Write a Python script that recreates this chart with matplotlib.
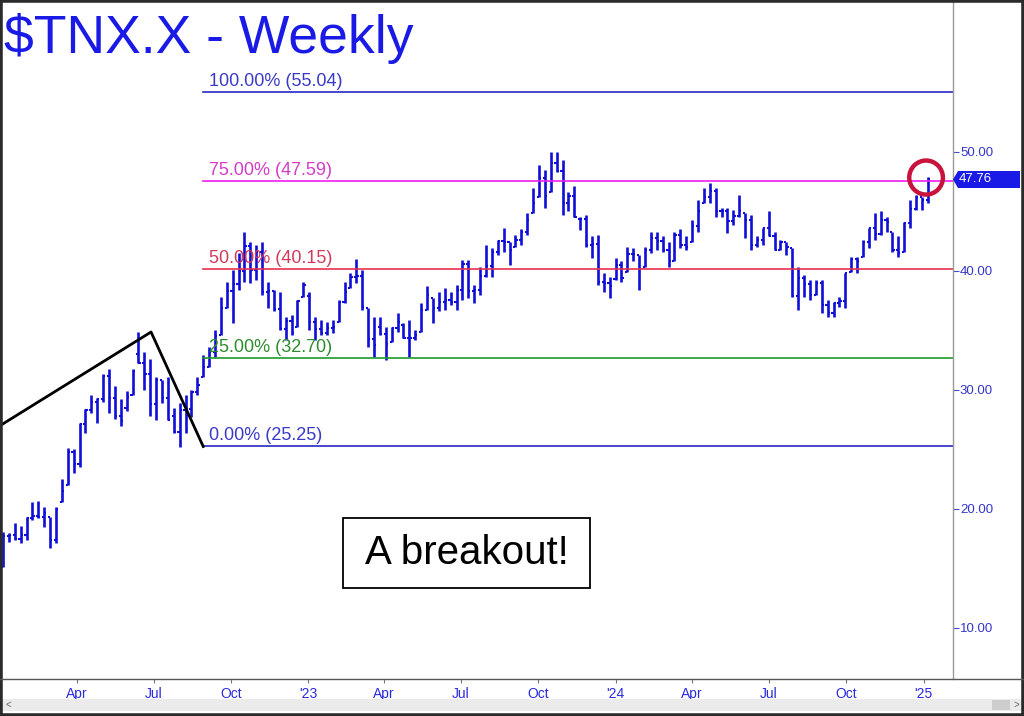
import pandas as pd
import matplotlib
matplotlib.use('Agg')
import matplotlib.pyplot as plt
import matplotlib.dates as mdates
from matplotlib.patches import Rectangle, Ellipse, Polygon
from matplotlib.lines import Line2D

plt.rcParams['font.family'] = ['Liberation Sans', 'DejaVu Sans']

# 10-year yield (x10), weekly bars starting Monday 2022-01-03
first_week = '2022-01-03'
highs = [18.1, 18.0, 18.8, 18.6, 19.3, 20.6, 20.7, 20.2, 19.3, 20.2,
         22.5, 25.1, 25.0, 27.2, 28.4, 29.6, 29.3, 31.3, 31.8, 30.3,
         29.2, 29.9, 31.8, 34.9, 33.2, 32.6, 31.1, 30.8, 31.1, 28.5,
         28.9, 29.6, 30.0, 31.1, 32.9, 33.6, 35.0, 37.8, 39.1, 40.1,
         41.5, 43.3, 42.4, 42.2, 42.4, 39.1, 38.4, 38.2, 36.1, 36.3,
         37.6, 39.1, 38.2, 36.1, 35.9, 35.7, 35.9, 37.6, 39.1, 39.8,
         41.0, 40.1, 36.9, 36.1, 36.1, 35.3, 35.3, 36.5, 35.6, 35.9,
         35.0, 37.3, 38.7, 37.7, 38.2, 38.6, 38.2, 38.8, 40.9, 40.9,
         38.8, 40.3, 42.2, 41.9, 42.6, 43.6, 42.4, 43.0, 43.5, 44.9,
         47.0, 48.9, 48.5, 50.0, 50.0, 49.3, 46.6, 47.1, 44.5, 44.7,
         42.9, 43.0, 39.8, 39.5, 41.1, 40.8, 42.0, 41.9, 41.3, 42.0,
         43.3, 43.3, 42.9, 42.4, 43.3, 43.5, 42.9, 44.3, 46.0, 47.0,
         47.4, 47.0, 45.3, 45.3, 45.1, 46.4, 44.9, 44.7, 42.9, 43.6,
         45.0, 43.3, 42.6, 42.4, 41.9, 40.3, 39.7, 39.2, 39.2, 39.2,
         37.6, 37.4, 37.8, 39.8, 41.2, 41.2, 42.6, 43.6, 44.9, 45.0,
         44.5, 43.3, 42.9, 44.1, 46.0, 46.4, 46.2, 47.9]
lows = [15.1, 17.2, 17.4, 17.1, 17.4, 19.1, 19.2, 18.5, 16.7, 17.1,
        20.6, 22.0, 23.0, 23.5, 26.4, 28.1, 27.2, 29.0, 28.1, 27.6,
        27.0, 28.2, 29.6, 32.3, 30.0, 27.8, 27.5, 28.9, 27.5, 26.4,
        25.2, 26.4, 27.7, 29.6, 31.1, 31.9, 32.8, 34.6, 36.9, 35.6,
        38.4, 39.1, 39.0, 39.2, 38.0, 36.9, 36.6, 35.0, 34.2, 34.6,
        35.3, 37.8, 35.0, 34.2, 34.6, 34.6, 34.8, 35.7, 37.3, 38.6,
        39.0, 36.7, 33.6, 32.8, 34.6, 32.5, 34.0, 34.9, 34.4, 32.8,
        34.2, 34.9, 36.7, 35.6, 36.6, 36.7, 37.1, 36.7, 37.6, 37.7,
        37.3, 38.0, 39.5, 39.5, 41.3, 41.6, 40.5, 42.0, 42.2, 43.0,
        44.9, 46.2, 45.3, 46.6, 48.3, 44.7, 45.0, 44.5, 43.4, 42.0,
        41.1, 38.8, 38.2, 37.7, 39.2, 39.1, 39.9, 40.8, 38.4, 40.3,
        41.5, 41.8, 41.6, 40.3, 40.8, 41.9, 41.8, 42.4, 43.3, 45.7,
        45.7, 44.5, 44.5, 43.2, 43.9, 44.5, 42.8, 41.8, 42.0, 42.2,
        42.9, 41.8, 41.8, 41.3, 37.8, 36.7, 37.8, 37.6, 38.0, 36.5,
        36.1, 36.1, 37.0, 36.9, 39.9, 39.8, 41.2, 41.9, 42.6, 43.0,
        43.3, 41.6, 41.2, 41.6, 43.6, 45.1, 45.1, 45.7]
opens = [15.1, 17.7, 17.8, 17.5, 17.8, 19.2, 19.4, 19.3, 19.3, 17.4,
         20.6, 22.0, 24.8, 23.8, 27.1, 28.3, 29.0, 29.2, 31.2, 29.3,
         27.8, 28.5, 29.6, 33.0, 32.3, 31.3, 28.8, 30.8, 29.3, 27.8,
         26.5, 28.3, 28.4, 29.8, 31.1, 31.9, 33.2, 34.6, 36.9, 38.3,
         38.9, 40.0, 42.1, 40.1, 41.6, 38.2, 38.3, 36.8, 35.1, 35.8,
         35.3, 37.8, 37.9, 35.7, 35.1, 34.8, 35.2, 35.7, 37.4, 38.6,
         39.5, 39.6, 36.9, 34.3, 35.3, 34.7, 34.0, 35.2, 35.5, 34.4,
         34.4, 34.9, 36.7, 37.7, 36.9, 37.4, 37.6, 37.4, 38.4, 40.6,
         38.3, 38.4, 39.6, 40.4, 41.6, 42.5, 42.4, 42.0, 42.6, 43.3,
         44.9, 46.2, 47.8, 46.6, 49.1, 48.4, 45.7, 46.3, 44.4, 44.4,
         42.2, 42.3, 39.1, 39.0, 39.3, 40.5, 39.9, 41.4, 41.3, 40.3,
         41.8, 42.8, 42.5, 41.8, 40.8, 43.0, 42.2, 42.4, 43.8, 45.7,
         46.2, 46.7, 45.0, 45.0, 44.2, 44.6, 44.9, 44.3, 42.2, 42.6,
         43.6, 42.9, 41.8, 42.4, 41.9, 37.9, 39.4, 38.9, 38.0, 39.0,
         37.1, 36.5, 37.3, 37.5, 39.9, 41.0, 41.2, 42.4, 43.6, 43.1,
         44.3, 43.3, 41.8, 41.6, 44.0, 45.2, 46.2, 46.0]
closes = [17.7, 17.8, 17.5, 17.8, 19.2, 19.4, 19.3, 19.7, 17.4, 20.0,
          21.5, 24.8, 23.8, 27.1, 28.3, 29.0, 29.2, 31.2, 29.3, 27.8,
          27.4, 29.4, 31.6, 32.3, 31.3, 28.8, 30.8, 29.3, 27.5, 26.5,
          28.3, 28.4, 29.8, 30.4, 31.9, 33.2, 34.5, 36.9, 38.3, 38.9,
          40.0, 42.1, 40.1, 41.6, 38.2, 38.3, 36.8, 35.1, 35.8, 34.8,
          37.5, 38.8, 35.7, 35.1, 34.8, 35.2, 35.3, 37.4, 38.2, 39.5,
          39.6, 37.0, 34.3, 33.8, 34.7, 33.9, 35.2, 35.7, 34.4, 34.4,
          34.6, 36.7, 38.0, 36.9, 37.4, 37.6, 37.4, 38.4, 40.6, 38.3,
          38.4, 39.6, 40.4, 41.6, 42.5, 42.4, 41.8, 42.6, 43.3, 44.3,
          45.7, 47.8, 46.3, 49.1, 48.4, 45.7, 46.3, 44.5, 44.4, 42.2,
          42.3, 39.1, 39.0, 38.7, 40.5, 39.4, 41.4, 41.4, 40.2, 41.8,
          42.8, 42.5, 41.8, 40.8, 43.0, 42.2, 42.0, 43.8, 45.0, 46.2,
          46.7, 45.0, 45.0, 44.2, 44.6, 45.0, 44.3, 42.2, 42.6, 43.6,
          42.9, 41.8, 42.4, 42.0, 37.9, 39.4, 38.9, 38.0, 39.0, 37.1,
          36.5, 37.3, 37.5, 39.8, 41.0, 40.8, 42.4, 43.6, 43.1, 44.3,
          44.1, 41.8, 41.5, 44.0, 45.2, 46.2, 46.0, 47.76]
last_price = 47.76

# retracement levels
fib_pct = ['100.00%', '75.00%', '50.00%', '25.00%', '0.00%']
fib_val = [55.04, 47.59, 40.15, 32.70, 25.25]
fib_line_col = ['#2626c4', '#f01ef0', '#e8304e', '#209a2a', '#2626c4']
fib_text_col = ['#3a3ac8', '#d43cc8', '#d23a5a', '#2e8c2e', '#3a3ac8']
fib_start = '2022-08-29'

# hand-drawn swing line
swing_dates = ['2021-12-30 12:00', '2022-06-28 00:00', '2022-08-29 00:00']
swing_vals = [27.0, 34.87, 25.25]

# quarter labels along the bottom
qtr_ticks = ['2022-04-01', '2022-07-01', '2022-10-01', '2023-01-01',
             '2023-04-01', '2023-07-01', '2023-10-01', '2024-01-01',
             '2024-04-01', '2024-07-01', '2024-10-01', '2025-01-01']
qtr_labels = ['Apr', 'Jul', 'Oct', "'23", 'Apr', 'Jul', 'Oct', "'24",
              'Apr', 'Jul', 'Oct', "'25"]
price_ticks = [10, 20, 30, 40, 50]

x_left, x_right = '2021-12-30 12:00', '2025-02-05'
y_low, y_high = 5.71, 62.77

BLUE = '#0f0fd8'
W, H = 1024, 716


def fx(px):
    return px / W


def fy(py):
    return 1 - py / H


fig = plt.figure(figsize=(W / 100, H / 100), dpi=100)
fig.patch.set_facecolor('white')
ax = fig.add_axes([0, fy(679), fx(953), 679 / H])

weeks = pd.date_range(first_week, periods=len(highs), freq='7D')
tick = pd.Timedelta(days=2.6)

# OHLC bars
ax.vlines(weeks, lows, highs, color=BLUE, lw=1.9)
ax.hlines(opens, weeks - tick, weeks, color=BLUE, lw=1.5)
ax.hlines(closes, weeks, weeks + tick, color=BLUE, lw=1.5)

# retracement lines with labels
fs = pd.Timestamp(fib_start)
for pct, v, lc, tc in zip(fib_pct, fib_val, fib_line_col, fib_text_col):
    ax.plot([fs, pd.Timestamp(x_right)], [v, v], color=lc, lw=1.2)
    ax.annotate(f'{pct} ({v:.2f})', xy=(fs, v), xytext=(6, 6),
                textcoords='offset pixels', color=tc, fontsize=13,
                ha='left', va='baseline')

# swing line
ax.plot(pd.to_datetime(swing_dates), swing_vals, color='black', lw=2.0)

# circle around the breakout bar
ax.add_patch(Ellipse((weeks[-1] - pd.Timedelta(days=2), 47.85),
                     width=40.0, height=2.86, fill=False,
                     edgecolor='#c8143c', lw=3.2, zorder=5))

ax.set_xlim(pd.Timestamp(x_left), pd.Timestamp(x_right))
ax.set_ylim(y_low, y_high)

for s in ['top', 'left', 'bottom']:
    ax.spines[s].set_visible(False)
ax.spines['right'].set_color('#9a9a9a')
ax.spines['right'].set_linewidth(1.0)

ax.yaxis.tick_right()
ax.set_yticks(price_ticks)
ax.set_yticklabels([f'{t:.2f}' for t in price_ticks])
ax.tick_params(axis='y', length=4, width=0.8, color='#4a4ad0',
               labelcolor='#3535c8', labelsize=9.5, pad=1)

ax.set_xticks(pd.to_datetime(qtr_ticks))
ax.set_xticklabels(qtr_labels, family=['Liberation Sans Narrow', 'Liberation Sans'])
ax.tick_params(axis='x', length=3, width=0.8, color='#777777',
               labelcolor='#2a2ae0', labelsize=10, pad=3)

# title
fig.text(fx(4), fy(53), '$TNX.X - Weekly', color='#1a1ae6', fontsize=38.5,
         ha='left', va='baseline')

# last price tag
tag = Polygon([(fx(953), fy(179.5)), (fx(958), fy(171)), (fx(1020), fy(171)),
               (fx(1020), fy(188)), (fx(958), fy(188))], closed=True,
              transform=fig.transFigure, facecolor='#1a1ae6', edgecolor='none')
fig.add_artist(tag)
fig.text(fx(959), fy(179.5), f'{last_price:.2f}', color='white', fontsize=9.5,
         ha='left', va='center')

# annotation box
fig.add_artist(Rectangle((fx(343), fy(588)), fx(590) - fx(343), fy(518) - fy(588),
                         transform=fig.transFigure, fill=False,
                         edgecolor='black', lw=1.3))
fig.text(fx(466.5), fy(553), 'A breakout!', fontsize=29, color='black',
         ha='center', va='center')

# bottom axis line and scroll strip
fig.add_artist(Line2D([0, 1], [fy(679), fy(679)], transform=fig.transFigure,
                      color='#555555', lw=1.0))
fig.add_artist(Rectangle((fx(2), fy(711)), fx(1022) - fx(2), fy(699) - fy(711),
                         transform=fig.transFigure, facecolor='#ebebeb',
                         edgecolor='none'))
fig.add_artist(Rectangle((fx(992), fy(710)), fx(1010) - fx(992), fy(700) - fy(710),
                         transform=fig.transFigure, facecolor='#cdcdcd',
                         edgecolor='none'))
fig.text(fx(6), fy(705), '<', fontsize=7, color='#666666', ha='left', va='center')
fig.text(fx(1019), fy(705), '>', fontsize=7, color='#666666', ha='right', va='center')

# outer frame
fig.add_artist(Rectangle((0, 0), 1, 1, transform=fig.transFigure, fill=False,
                         edgecolor='#2a2a2a', lw=4.0))

fig.savefig('out.png', dpi=100)
